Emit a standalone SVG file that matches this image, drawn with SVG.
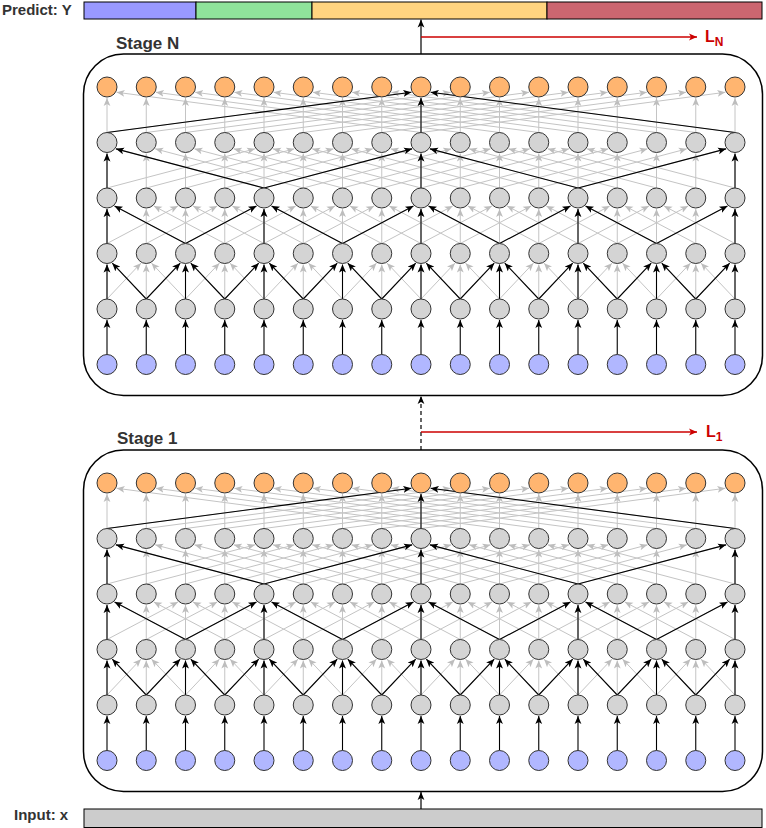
<svg xmlns="http://www.w3.org/2000/svg" xmlns:xlink="http://www.w3.org/1999/xlink" width="766" height="828" viewBox="0 0 766 828">
<style>
.g{stroke:#c4c4c4;stroke-width:1;fill:none;marker-end:url(#ag)}
.b{stroke:#000;stroke-width:1.1;fill:none;marker-end:url(#ab)}
.o{fill:#FFB570;stroke:#333;stroke-width:1}
.h{fill:#D4D4D4;stroke:#333;stroke-width:1}
.i{fill:#B1B7FF;stroke:#333;stroke-width:1}
.box{fill:#fff;stroke:#000;stroke-width:1.5}
.lbl{font-family:"Liberation Sans",Arial,sans-serif;font-weight:bold;fill:#333}
.red{font-family:"Liberation Sans",Arial,sans-serif;font-weight:bold;fill:#CC0000}
.ra{stroke:#CC0000;stroke-width:1.3;fill:none;marker-end:url(#ar)}
.ka{stroke:#000;stroke-width:1.2;fill:none;marker-end:url(#ab)}
.bar{stroke:#000;stroke-width:1}
</style>
<defs>
<marker id="ab" markerUnits="userSpaceOnUse" viewBox="0 0 8 8" markerWidth="8" markerHeight="8" refX="8" refY="4" orient="auto"><path d="M0,0.6 L8,4 L0,7.4 L2,4 Z" fill="#000"/></marker>
<marker id="ag" markerUnits="userSpaceOnUse" viewBox="0 0 8 8" markerWidth="8" markerHeight="8" refX="8" refY="4" orient="auto"><path d="M0,0.6 L8,4 L0,7.4 L2,4 Z" fill="#bdbdbd"/></marker>
<marker id="ar" markerUnits="userSpaceOnUse" viewBox="0 0 8 8" markerWidth="8" markerHeight="8" refX="8" refY="4" orient="auto"><path d="M0,0.6 L8,4 L0,7.4 L2,4 Z" fill="#CC0000"/></marker>
<line id="gv" class="g" x1="0" y1="45.5" x2="0" y2="11"/>
<line id="gl1" class="g" x1="-39.25" y1="45.5" x2="-5.32" y2="9.63"/>
<line id="gr1" class="g" x1="39.25" y1="45.5" x2="5.32" y2="9.63"/>
<line id="gl2" class="g" x1="-78.5" y1="45.5" x2="-7.56" y2="7.99"/>
<line id="gr2" class="g" x1="78.5" y1="45.5" x2="7.56" y2="7.99"/>
<line id="gl4" class="g" x1="-157" y1="45.5" x2="-8.97" y2="6.37"/>
<line id="gr4" class="g" x1="157" y1="45.5" x2="8.97" y2="6.37"/>
<line id="gl8" class="g" x1="-314" y1="45.5" x2="-9.65" y2="5.28"/>
<line id="gr8" class="g" x1="314" y1="45.5" x2="9.65" y2="5.28"/>
<line id="bv" class="b" x1="0" y1="45.5" x2="0" y2="11"/>
<line id="bl1" class="b" x1="-39.25" y1="45.5" x2="-5.32" y2="9.63"/>
<line id="br1" class="b" x1="39.25" y1="45.5" x2="5.32" y2="9.63"/>
<line id="bl2" class="b" x1="-78.5" y1="45.5" x2="-7.56" y2="7.99"/>
<line id="br2" class="b" x1="78.5" y1="45.5" x2="7.56" y2="7.99"/>
<line id="bl4" class="b" x1="-157" y1="45.5" x2="-8.97" y2="6.37"/>
<line id="br4" class="b" x1="157" y1="45.5" x2="8.97" y2="6.37"/>
<line id="bl8" class="b" x1="-314" y1="45.5" x2="-9.65" y2="5.28"/>
<line id="br8" class="b" x1="314" y1="45.5" x2="9.65" y2="5.28"/>
<g id="g1r"><use href="#gv"/><use href="#gr1"/></g>
<g id="g1f"><use href="#gl1"/><use href="#gv"/><use href="#gr1"/></g>
<g id="g1l"><use href="#gl1"/><use href="#gv"/></g>
<g id="g2r"><use href="#gv"/><use href="#gr2"/></g>
<g id="g2f"><use href="#gl2"/><use href="#gv"/><use href="#gr2"/></g>
<g id="g2l"><use href="#gl2"/><use href="#gv"/></g>
<g id="g4r"><use href="#gv"/><use href="#gr4"/></g>
<g id="g4f"><use href="#gl4"/><use href="#gv"/><use href="#gr4"/></g>
<g id="g4l"><use href="#gl4"/><use href="#gv"/></g>
<g id="g8r"><use href="#gv"/><use href="#gr8"/></g>
<g id="g8f"><use href="#gl8"/><use href="#gv"/><use href="#gr8"/></g>
<g id="g8l"><use href="#gl8"/><use href="#gv"/></g>
<g id="b1r"><use href="#bv"/><use href="#br1"/></g>
<g id="b1f"><use href="#bl1"/><use href="#bv"/><use href="#br1"/></g>
<g id="b1l"><use href="#bl1"/><use href="#bv"/></g>
<g id="b2r"><use href="#bv"/><use href="#br2"/></g>
<g id="b2f"><use href="#bl2"/><use href="#bv"/><use href="#br2"/></g>
<g id="b2l"><use href="#bl2"/><use href="#bv"/></g>
<g id="b4r"><use href="#bv"/><use href="#br4"/></g>
<g id="b4f"><use href="#bl4"/><use href="#bv"/><use href="#br4"/></g>
<g id="b4l"><use href="#bl4"/><use href="#bv"/></g>
<g id="b8f"><use href="#bl8"/><use href="#bv"/><use href="#br8"/></g>
<g id="stageEdges">
<use href="#g8r" x="107" y="87"/><use href="#g8r" x="146.25" y="87"/><use href="#g8r" x="185.5" y="87"/><use href="#g8r" x="224.75" y="87"/><use href="#g8r" x="264" y="87"/><use href="#g8r" x="303.25" y="87"/><use href="#g8r" x="342.5" y="87"/><use href="#g8r" x="381.75" y="87"/><use href="#g8f" x="421" y="87"/><use href="#g8l" x="460.25" y="87"/><use href="#g8l" x="499.5" y="87"/><use href="#g8l" x="538.75" y="87"/><use href="#g8l" x="578" y="87"/><use href="#g8l" x="617.25" y="87"/><use href="#g8l" x="656.5" y="87"/><use href="#g8l" x="695.75" y="87"/><use href="#g8l" x="735" y="87"/>
<use href="#g4r" x="107" y="142.5"/><use href="#g4r" x="146.25" y="142.5"/><use href="#g4r" x="185.5" y="142.5"/><use href="#g4r" x="224.75" y="142.5"/><use href="#g4f" x="264" y="142.5"/><use href="#g4f" x="303.25" y="142.5"/><use href="#g4f" x="342.5" y="142.5"/><use href="#g4f" x="381.75" y="142.5"/><use href="#g4f" x="421" y="142.5"/><use href="#g4f" x="460.25" y="142.5"/><use href="#g4f" x="499.5" y="142.5"/><use href="#g4f" x="538.75" y="142.5"/><use href="#g4f" x="578" y="142.5"/><use href="#g4l" x="617.25" y="142.5"/><use href="#g4l" x="656.5" y="142.5"/><use href="#g4l" x="695.75" y="142.5"/><use href="#g4l" x="735" y="142.5"/>
<use href="#g2r" x="107" y="198"/><use href="#g2r" x="146.25" y="198"/><use href="#g2f" x="185.5" y="198"/><use href="#g2f" x="224.75" y="198"/><use href="#g2f" x="264" y="198"/><use href="#g2f" x="303.25" y="198"/><use href="#g2f" x="342.5" y="198"/><use href="#g2f" x="381.75" y="198"/><use href="#g2f" x="421" y="198"/><use href="#g2f" x="460.25" y="198"/><use href="#g2f" x="499.5" y="198"/><use href="#g2f" x="538.75" y="198"/><use href="#g2f" x="578" y="198"/><use href="#g2f" x="617.25" y="198"/><use href="#g2f" x="656.5" y="198"/><use href="#g2l" x="695.75" y="198"/><use href="#g2l" x="735" y="198"/>
<use href="#g1r" x="107" y="253.5"/><use href="#g1f" x="146.25" y="253.5"/><use href="#g1f" x="185.5" y="253.5"/><use href="#g1f" x="224.75" y="253.5"/><use href="#g1f" x="264" y="253.5"/><use href="#g1f" x="303.25" y="253.5"/><use href="#g1f" x="342.5" y="253.5"/><use href="#g1f" x="381.75" y="253.5"/><use href="#g1f" x="421" y="253.5"/><use href="#g1f" x="460.25" y="253.5"/><use href="#g1f" x="499.5" y="253.5"/><use href="#g1f" x="538.75" y="253.5"/><use href="#g1f" x="578" y="253.5"/><use href="#g1f" x="617.25" y="253.5"/><use href="#g1f" x="656.5" y="253.5"/><use href="#g1f" x="695.75" y="253.5"/><use href="#g1l" x="735" y="253.5"/>
<use href="#b8f" x="421" y="87"/>
<use href="#b4r" x="107" y="142.5"/><use href="#b4f" x="421" y="142.5"/><use href="#b4l" x="735" y="142.5"/>
<use href="#b2r" x="107" y="198"/><use href="#b2f" x="264" y="198"/><use href="#b2f" x="421" y="198"/><use href="#b2f" x="578" y="198"/><use href="#b2l" x="735" y="198"/>
<use href="#b1r" x="107" y="253.5"/><use href="#b1f" x="185.5" y="253.5"/><use href="#b1f" x="264" y="253.5"/><use href="#b1f" x="342.5" y="253.5"/><use href="#b1f" x="421" y="253.5"/><use href="#b1f" x="499.5" y="253.5"/><use href="#b1f" x="578" y="253.5"/><use href="#b1f" x="656.5" y="253.5"/><use href="#b1l" x="735" y="253.5"/>
<use href="#bv" x="107" y="309"/><use href="#bv" x="146.25" y="309"/><use href="#bv" x="185.5" y="309"/><use href="#bv" x="224.75" y="309"/><use href="#bv" x="264" y="309"/><use href="#bv" x="303.25" y="309"/><use href="#bv" x="342.5" y="309"/><use href="#bv" x="381.75" y="309"/><use href="#bv" x="421" y="309"/><use href="#bv" x="460.25" y="309"/><use href="#bv" x="499.5" y="309"/><use href="#bv" x="538.75" y="309"/><use href="#bv" x="578" y="309"/><use href="#bv" x="617.25" y="309"/><use href="#bv" x="656.5" y="309"/><use href="#bv" x="695.75" y="309"/><use href="#bv" x="735" y="309"/>
</g>
</defs>

<g id="predict">
<text class="lbl" x="2" y="15" font-size="15">Predict: Y</text>
<rect class="bar" x="84" y="2" width="112" height="17" fill="#9999FF"/>
<rect class="bar" x="196" y="2" width="116" height="17" fill="#8FE39B"/>
<rect class="bar" x="312" y="2" width="235" height="17" fill="#FFD480"/>
<rect class="bar" x="547" y="2" width="215" height="17" fill="#CC6670"/>
</g>
<g id="input">
<text class="lbl" x="14" y="820" font-size="15">Input: x</text>
<rect class="bar" x="84" y="809" width="678" height="18.5" fill="#CCCCCC"/>
</g>

<g id="stageN">
<rect class="box" x="83.5" y="54" width="679" height="341.5" rx="40" ry="40"/>
<text class="lbl" x="116" y="48.5" font-size="17">Stage N</text>
</g>
<g id="stage1">
<rect class="box" x="83.5" y="450" width="679" height="341.5" rx="40" ry="40"/>
<text class="lbl" x="117" y="444" font-size="17">Stage 1</text>
</g>

<g id="connectors">
<use href="#stageEdges"/>
<use href="#stageEdges" y="396"/>
<line class="ka" x1="421" y1="54" x2="421" y2="19.5"/>
<line class="ka" x1="421" y1="450" x2="421" y2="396" stroke-dasharray="4 3"/>
<line class="ka" x1="421" y1="809" x2="421" y2="792"/>
<line class="ra" x1="421" y1="37" x2="697" y2="37"/>
<line class="ra" x1="421" y1="432" x2="697" y2="432"/>
<text class="red" x="705" y="42" font-size="16">L<tspan font-size="12" dy="4">N</tspan></text>
<text class="red" x="706" y="437" font-size="16">L<tspan font-size="12" dy="4">1</tspan></text>
</g>

<g id="nodesN">
<g id="N-o0"><circle class="o" cx="107" cy="87" r="10"/></g><g id="N-o1"><circle class="o" cx="146.25" cy="87" r="10"/></g><g id="N-o2"><circle class="o" cx="185.5" cy="87" r="10"/></g><g id="N-o3"><circle class="o" cx="224.75" cy="87" r="10"/></g><g id="N-o4"><circle class="o" cx="264" cy="87" r="10"/></g><g id="N-o5"><circle class="o" cx="303.25" cy="87" r="10"/></g><g id="N-o6"><circle class="o" cx="342.5" cy="87" r="10"/></g><g id="N-o7"><circle class="o" cx="381.75" cy="87" r="10"/></g><g id="N-o8"><circle class="o" cx="421" cy="87" r="10"/></g><g id="N-o9"><circle class="o" cx="460.25" cy="87" r="10"/></g><g id="N-o10"><circle class="o" cx="499.5" cy="87" r="10"/></g><g id="N-o11"><circle class="o" cx="538.75" cy="87" r="10"/></g><g id="N-o12"><circle class="o" cx="578" cy="87" r="10"/></g><g id="N-o13"><circle class="o" cx="617.25" cy="87" r="10"/></g><g id="N-o14"><circle class="o" cx="656.5" cy="87" r="10"/></g><g id="N-o15"><circle class="o" cx="695.75" cy="87" r="10"/></g><g id="N-o16"><circle class="o" cx="735" cy="87" r="10"/></g>
<g id="N-a0"><circle class="h" cx="107" cy="142.5" r="10"/></g><g id="N-a1"><circle class="h" cx="146.25" cy="142.5" r="10"/></g><g id="N-a2"><circle class="h" cx="185.5" cy="142.5" r="10"/></g><g id="N-a3"><circle class="h" cx="224.75" cy="142.5" r="10"/></g><g id="N-a4"><circle class="h" cx="264" cy="142.5" r="10"/></g><g id="N-a5"><circle class="h" cx="303.25" cy="142.5" r="10"/></g><g id="N-a6"><circle class="h" cx="342.5" cy="142.5" r="10"/></g><g id="N-a7"><circle class="h" cx="381.75" cy="142.5" r="10"/></g><g id="N-a8"><circle class="h" cx="421" cy="142.5" r="10"/></g><g id="N-a9"><circle class="h" cx="460.25" cy="142.5" r="10"/></g><g id="N-a10"><circle class="h" cx="499.5" cy="142.5" r="10"/></g><g id="N-a11"><circle class="h" cx="538.75" cy="142.5" r="10"/></g><g id="N-a12"><circle class="h" cx="578" cy="142.5" r="10"/></g><g id="N-a13"><circle class="h" cx="617.25" cy="142.5" r="10"/></g><g id="N-a14"><circle class="h" cx="656.5" cy="142.5" r="10"/></g><g id="N-a15"><circle class="h" cx="695.75" cy="142.5" r="10"/></g><g id="N-a16"><circle class="h" cx="735" cy="142.5" r="10"/></g>
<g id="N-b0"><circle class="h" cx="107" cy="198" r="10"/></g><g id="N-b1"><circle class="h" cx="146.25" cy="198" r="10"/></g><g id="N-b2"><circle class="h" cx="185.5" cy="198" r="10"/></g><g id="N-b3"><circle class="h" cx="224.75" cy="198" r="10"/></g><g id="N-b4"><circle class="h" cx="264" cy="198" r="10"/></g><g id="N-b5"><circle class="h" cx="303.25" cy="198" r="10"/></g><g id="N-b6"><circle class="h" cx="342.5" cy="198" r="10"/></g><g id="N-b7"><circle class="h" cx="381.75" cy="198" r="10"/></g><g id="N-b8"><circle class="h" cx="421" cy="198" r="10"/></g><g id="N-b9"><circle class="h" cx="460.25" cy="198" r="10"/></g><g id="N-b10"><circle class="h" cx="499.5" cy="198" r="10"/></g><g id="N-b11"><circle class="h" cx="538.75" cy="198" r="10"/></g><g id="N-b12"><circle class="h" cx="578" cy="198" r="10"/></g><g id="N-b13"><circle class="h" cx="617.25" cy="198" r="10"/></g><g id="N-b14"><circle class="h" cx="656.5" cy="198" r="10"/></g><g id="N-b15"><circle class="h" cx="695.75" cy="198" r="10"/></g><g id="N-b16"><circle class="h" cx="735" cy="198" r="10"/></g>
<g id="N-c0"><circle class="h" cx="107" cy="253.5" r="10"/></g><g id="N-c1"><circle class="h" cx="146.25" cy="253.5" r="10"/></g><g id="N-c2"><circle class="h" cx="185.5" cy="253.5" r="10"/></g><g id="N-c3"><circle class="h" cx="224.75" cy="253.5" r="10"/></g><g id="N-c4"><circle class="h" cx="264" cy="253.5" r="10"/></g><g id="N-c5"><circle class="h" cx="303.25" cy="253.5" r="10"/></g><g id="N-c6"><circle class="h" cx="342.5" cy="253.5" r="10"/></g><g id="N-c7"><circle class="h" cx="381.75" cy="253.5" r="10"/></g><g id="N-c8"><circle class="h" cx="421" cy="253.5" r="10"/></g><g id="N-c9"><circle class="h" cx="460.25" cy="253.5" r="10"/></g><g id="N-c10"><circle class="h" cx="499.5" cy="253.5" r="10"/></g><g id="N-c11"><circle class="h" cx="538.75" cy="253.5" r="10"/></g><g id="N-c12"><circle class="h" cx="578" cy="253.5" r="10"/></g><g id="N-c13"><circle class="h" cx="617.25" cy="253.5" r="10"/></g><g id="N-c14"><circle class="h" cx="656.5" cy="253.5" r="10"/></g><g id="N-c15"><circle class="h" cx="695.75" cy="253.5" r="10"/></g><g id="N-c16"><circle class="h" cx="735" cy="253.5" r="10"/></g>
<g id="N-d0"><circle class="h" cx="107" cy="309" r="10"/></g><g id="N-d1"><circle class="h" cx="146.25" cy="309" r="10"/></g><g id="N-d2"><circle class="h" cx="185.5" cy="309" r="10"/></g><g id="N-d3"><circle class="h" cx="224.75" cy="309" r="10"/></g><g id="N-d4"><circle class="h" cx="264" cy="309" r="10"/></g><g id="N-d5"><circle class="h" cx="303.25" cy="309" r="10"/></g><g id="N-d6"><circle class="h" cx="342.5" cy="309" r="10"/></g><g id="N-d7"><circle class="h" cx="381.75" cy="309" r="10"/></g><g id="N-d8"><circle class="h" cx="421" cy="309" r="10"/></g><g id="N-d9"><circle class="h" cx="460.25" cy="309" r="10"/></g><g id="N-d10"><circle class="h" cx="499.5" cy="309" r="10"/></g><g id="N-d11"><circle class="h" cx="538.75" cy="309" r="10"/></g><g id="N-d12"><circle class="h" cx="578" cy="309" r="10"/></g><g id="N-d13"><circle class="h" cx="617.25" cy="309" r="10"/></g><g id="N-d14"><circle class="h" cx="656.5" cy="309" r="10"/></g><g id="N-d15"><circle class="h" cx="695.75" cy="309" r="10"/></g><g id="N-d16"><circle class="h" cx="735" cy="309" r="10"/></g>
<g id="N-i0"><circle class="i" cx="107" cy="364.5" r="10"/></g><g id="N-i1"><circle class="i" cx="146.25" cy="364.5" r="10"/></g><g id="N-i2"><circle class="i" cx="185.5" cy="364.5" r="10"/></g><g id="N-i3"><circle class="i" cx="224.75" cy="364.5" r="10"/></g><g id="N-i4"><circle class="i" cx="264" cy="364.5" r="10"/></g><g id="N-i5"><circle class="i" cx="303.25" cy="364.5" r="10"/></g><g id="N-i6"><circle class="i" cx="342.5" cy="364.5" r="10"/></g><g id="N-i7"><circle class="i" cx="381.75" cy="364.5" r="10"/></g><g id="N-i8"><circle class="i" cx="421" cy="364.5" r="10"/></g><g id="N-i9"><circle class="i" cx="460.25" cy="364.5" r="10"/></g><g id="N-i10"><circle class="i" cx="499.5" cy="364.5" r="10"/></g><g id="N-i11"><circle class="i" cx="538.75" cy="364.5" r="10"/></g><g id="N-i12"><circle class="i" cx="578" cy="364.5" r="10"/></g><g id="N-i13"><circle class="i" cx="617.25" cy="364.5" r="10"/></g><g id="N-i14"><circle class="i" cx="656.5" cy="364.5" r="10"/></g><g id="N-i15"><circle class="i" cx="695.75" cy="364.5" r="10"/></g><g id="N-i16"><circle class="i" cx="735" cy="364.5" r="10"/></g>
</g>

<g id="nodes1">
<g id="S1-o0"><circle class="o" cx="107" cy="483" r="10"/></g><g id="S1-o1"><circle class="o" cx="146.25" cy="483" r="10"/></g><g id="S1-o2"><circle class="o" cx="185.5" cy="483" r="10"/></g><g id="S1-o3"><circle class="o" cx="224.75" cy="483" r="10"/></g><g id="S1-o4"><circle class="o" cx="264" cy="483" r="10"/></g><g id="S1-o5"><circle class="o" cx="303.25" cy="483" r="10"/></g><g id="S1-o6"><circle class="o" cx="342.5" cy="483" r="10"/></g><g id="S1-o7"><circle class="o" cx="381.75" cy="483" r="10"/></g><g id="S1-o8"><circle class="o" cx="421" cy="483" r="10"/></g><g id="S1-o9"><circle class="o" cx="460.25" cy="483" r="10"/></g><g id="S1-o10"><circle class="o" cx="499.5" cy="483" r="10"/></g><g id="S1-o11"><circle class="o" cx="538.75" cy="483" r="10"/></g><g id="S1-o12"><circle class="o" cx="578" cy="483" r="10"/></g><g id="S1-o13"><circle class="o" cx="617.25" cy="483" r="10"/></g><g id="S1-o14"><circle class="o" cx="656.5" cy="483" r="10"/></g><g id="S1-o15"><circle class="o" cx="695.75" cy="483" r="10"/></g><g id="S1-o16"><circle class="o" cx="735" cy="483" r="10"/></g>
<g id="S1-a0"><circle class="h" cx="107" cy="538.5" r="10"/></g><g id="S1-a1"><circle class="h" cx="146.25" cy="538.5" r="10"/></g><g id="S1-a2"><circle class="h" cx="185.5" cy="538.5" r="10"/></g><g id="S1-a3"><circle class="h" cx="224.75" cy="538.5" r="10"/></g><g id="S1-a4"><circle class="h" cx="264" cy="538.5" r="10"/></g><g id="S1-a5"><circle class="h" cx="303.25" cy="538.5" r="10"/></g><g id="S1-a6"><circle class="h" cx="342.5" cy="538.5" r="10"/></g><g id="S1-a7"><circle class="h" cx="381.75" cy="538.5" r="10"/></g><g id="S1-a8"><circle class="h" cx="421" cy="538.5" r="10"/></g><g id="S1-a9"><circle class="h" cx="460.25" cy="538.5" r="10"/></g><g id="S1-a10"><circle class="h" cx="499.5" cy="538.5" r="10"/></g><g id="S1-a11"><circle class="h" cx="538.75" cy="538.5" r="10"/></g><g id="S1-a12"><circle class="h" cx="578" cy="538.5" r="10"/></g><g id="S1-a13"><circle class="h" cx="617.25" cy="538.5" r="10"/></g><g id="S1-a14"><circle class="h" cx="656.5" cy="538.5" r="10"/></g><g id="S1-a15"><circle class="h" cx="695.75" cy="538.5" r="10"/></g><g id="S1-a16"><circle class="h" cx="735" cy="538.5" r="10"/></g>
<g id="S1-b0"><circle class="h" cx="107" cy="594" r="10"/></g><g id="S1-b1"><circle class="h" cx="146.25" cy="594" r="10"/></g><g id="S1-b2"><circle class="h" cx="185.5" cy="594" r="10"/></g><g id="S1-b3"><circle class="h" cx="224.75" cy="594" r="10"/></g><g id="S1-b4"><circle class="h" cx="264" cy="594" r="10"/></g><g id="S1-b5"><circle class="h" cx="303.25" cy="594" r="10"/></g><g id="S1-b6"><circle class="h" cx="342.5" cy="594" r="10"/></g><g id="S1-b7"><circle class="h" cx="381.75" cy="594" r="10"/></g><g id="S1-b8"><circle class="h" cx="421" cy="594" r="10"/></g><g id="S1-b9"><circle class="h" cx="460.25" cy="594" r="10"/></g><g id="S1-b10"><circle class="h" cx="499.5" cy="594" r="10"/></g><g id="S1-b11"><circle class="h" cx="538.75" cy="594" r="10"/></g><g id="S1-b12"><circle class="h" cx="578" cy="594" r="10"/></g><g id="S1-b13"><circle class="h" cx="617.25" cy="594" r="10"/></g><g id="S1-b14"><circle class="h" cx="656.5" cy="594" r="10"/></g><g id="S1-b15"><circle class="h" cx="695.75" cy="594" r="10"/></g><g id="S1-b16"><circle class="h" cx="735" cy="594" r="10"/></g>
<g id="S1-c0"><circle class="h" cx="107" cy="649.5" r="10"/></g><g id="S1-c1"><circle class="h" cx="146.25" cy="649.5" r="10"/></g><g id="S1-c2"><circle class="h" cx="185.5" cy="649.5" r="10"/></g><g id="S1-c3"><circle class="h" cx="224.75" cy="649.5" r="10"/></g><g id="S1-c4"><circle class="h" cx="264" cy="649.5" r="10"/></g><g id="S1-c5"><circle class="h" cx="303.25" cy="649.5" r="10"/></g><g id="S1-c6"><circle class="h" cx="342.5" cy="649.5" r="10"/></g><g id="S1-c7"><circle class="h" cx="381.75" cy="649.5" r="10"/></g><g id="S1-c8"><circle class="h" cx="421" cy="649.5" r="10"/></g><g id="S1-c9"><circle class="h" cx="460.25" cy="649.5" r="10"/></g><g id="S1-c10"><circle class="h" cx="499.5" cy="649.5" r="10"/></g><g id="S1-c11"><circle class="h" cx="538.75" cy="649.5" r="10"/></g><g id="S1-c12"><circle class="h" cx="578" cy="649.5" r="10"/></g><g id="S1-c13"><circle class="h" cx="617.25" cy="649.5" r="10"/></g><g id="S1-c14"><circle class="h" cx="656.5" cy="649.5" r="10"/></g><g id="S1-c15"><circle class="h" cx="695.75" cy="649.5" r="10"/></g><g id="S1-c16"><circle class="h" cx="735" cy="649.5" r="10"/></g>
<g id="S1-d0"><circle class="h" cx="107" cy="705" r="10"/></g><g id="S1-d1"><circle class="h" cx="146.25" cy="705" r="10"/></g><g id="S1-d2"><circle class="h" cx="185.5" cy="705" r="10"/></g><g id="S1-d3"><circle class="h" cx="224.75" cy="705" r="10"/></g><g id="S1-d4"><circle class="h" cx="264" cy="705" r="10"/></g><g id="S1-d5"><circle class="h" cx="303.25" cy="705" r="10"/></g><g id="S1-d6"><circle class="h" cx="342.5" cy="705" r="10"/></g><g id="S1-d7"><circle class="h" cx="381.75" cy="705" r="10"/></g><g id="S1-d8"><circle class="h" cx="421" cy="705" r="10"/></g><g id="S1-d9"><circle class="h" cx="460.25" cy="705" r="10"/></g><g id="S1-d10"><circle class="h" cx="499.5" cy="705" r="10"/></g><g id="S1-d11"><circle class="h" cx="538.75" cy="705" r="10"/></g><g id="S1-d12"><circle class="h" cx="578" cy="705" r="10"/></g><g id="S1-d13"><circle class="h" cx="617.25" cy="705" r="10"/></g><g id="S1-d14"><circle class="h" cx="656.5" cy="705" r="10"/></g><g id="S1-d15"><circle class="h" cx="695.75" cy="705" r="10"/></g><g id="S1-d16"><circle class="h" cx="735" cy="705" r="10"/></g>
<g id="S1-i0"><circle class="i" cx="107" cy="760.5" r="10"/></g><g id="S1-i1"><circle class="i" cx="146.25" cy="760.5" r="10"/></g><g id="S1-i2"><circle class="i" cx="185.5" cy="760.5" r="10"/></g><g id="S1-i3"><circle class="i" cx="224.75" cy="760.5" r="10"/></g><g id="S1-i4"><circle class="i" cx="264" cy="760.5" r="10"/></g><g id="S1-i5"><circle class="i" cx="303.25" cy="760.5" r="10"/></g><g id="S1-i6"><circle class="i" cx="342.5" cy="760.5" r="10"/></g><g id="S1-i7"><circle class="i" cx="381.75" cy="760.5" r="10"/></g><g id="S1-i8"><circle class="i" cx="421" cy="760.5" r="10"/></g><g id="S1-i9"><circle class="i" cx="460.25" cy="760.5" r="10"/></g><g id="S1-i10"><circle class="i" cx="499.5" cy="760.5" r="10"/></g><g id="S1-i11"><circle class="i" cx="538.75" cy="760.5" r="10"/></g><g id="S1-i12"><circle class="i" cx="578" cy="760.5" r="10"/></g><g id="S1-i13"><circle class="i" cx="617.25" cy="760.5" r="10"/></g><g id="S1-i14"><circle class="i" cx="656.5" cy="760.5" r="10"/></g><g id="S1-i15"><circle class="i" cx="695.75" cy="760.5" r="10"/></g><g id="S1-i16"><circle class="i" cx="735" cy="760.5" r="10"/></g>
</g>
</svg>
